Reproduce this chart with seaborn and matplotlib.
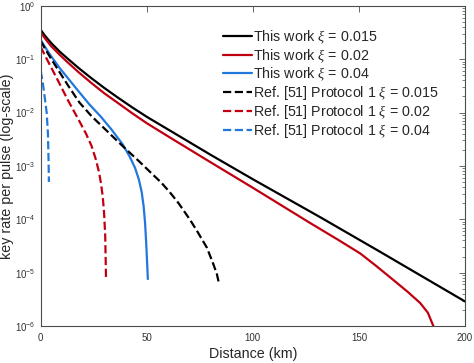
import numpy as np
import seaborn as sns
import matplotlib.pyplot as plt
from matplotlib.ticker import LogLocator, NullFormatter

# data (distance in km, log10 of key rate)
x_black = [0, 2, 5, 9, 13, 18, 24, 30, 36, 43, 50, 61, 80, 100, 131.7, 160, 200]
y_black = [-0.45, -0.56, -0.70, -0.86, -1.00, -1.17, -1.36, -1.54, -1.71, -1.90, -2.08, -2.34, -2.79, -3.25, -3.96, -4.61, -5.54]

x_red = [0, 2, 5, 9, 13, 18, 24, 30, 36, 43, 50, 61, 80, 100, 127, 140, 150.6, 158, 166.3, 173, 178.9, 182.5, 185.2, 186.5]
y_red = [-0.50, -0.61, -0.76, -0.92, -1.07, -1.25, -1.45, -1.64, -1.81, -2.01, -2.20, -2.47, -2.93, -3.41, -4.07, -4.38,
         -4.64, -4.87, -5.14, -5.36, -5.57, -5.75, -6.01, -6.3]

x_blue = [0, 2, 5, 9, 13.5, 18, 23, 28.4, 33.4, 38.7, 42, 44.5, 46.3, 47.6, 48.5, 49.2, 49.8, 50.2, 50.5]
y_blue = [-0.64, -0.77, -0.95, -1.17, -1.39, -1.61, -1.85, -2.08, -2.32, -2.60, -2.83, -3.04, -3.26, -3.49, -3.75,
          -4.07, -4.5, -4.85, -5.12]

x_black_ref = [0, 2, 5, 9, 13, 18.2, 24, 30.3, 35.5, 40, 46, 52, 57, 61, 65, 70.4, 74, 78.3, 81, 83, 84.2]
y_black_ref = [-0.66, -0.80, -1.00, -1.25, -1.50, -1.81, -2.07, -2.31, -2.51, -2.68, -2.90, -3.13, -3.32, -3.50, -3.70,
               -4.01, -4.24, -4.53, -4.80, -5.02, -5.23]

x_red_ref = [0, 2, 5, 8.5, 12.7, 16, 19, 21.4, 24, 26, 27.5, 28.5, 29.3, 29.9, 30.4, 30.8]
y_red_ref = [-0.77, -0.93, -1.16, -1.43, -1.76, -2.00, -2.22, -2.40, -2.63, -2.88, -3.12, -3.35, -3.60, -3.90, -4.3, -5.14]

x_blue_ref = [0, 1, 2, 2.8, 3.4, 3.7, 3.85]
y_blue_ref = [-1.22, -1.45, -1.75, -2.0, -2.39, -2.9, -3.3]

labels = [r'This work $\xi$ = 0.015', r'This work $\xi$ = 0.02', r'This work $\xi$ = 0.04',
          r'Ref. [51] Protocol 1 $\xi$ = 0.015', r'Ref. [51] Protocol 1 $\xi$ = 0.02',
          r'Ref. [51] Protocol 1 $\xi$ = 0.04']

sns.set_style('white')
plt.rcParams['font.family'] = ['Liberation Sans', 'DejaVu Sans']
plt.rcParams['mathtext.fontset'] = 'custom'
plt.rcParams['mathtext.rm'] = 'Liberation Sans'
plt.rcParams['mathtext.it'] = 'Liberation Serif:italic'

black, red, blue = '#000000', '#C00010', '#2277DD'

fig = plt.figure(figsize=(4.74, 3.63), dpi=100)
ax = fig.add_axes([0.0859, 0.102, 0.895, 0.882])

series = [
    (x_black, y_black, black, '-'),
    (x_red, y_red, red, '-'),
    (x_blue, y_blue, blue, '-'),
    (x_black_ref, y_black_ref, black, '--'),
    (x_red_ref, y_red_ref, red, '--'),
    (x_blue_ref, y_blue_ref, blue, '--'),
]
for (xs, ys, c, ls), lab in zip(series, labels):
    line_kw = dict(dashes=(3, 2)) if ls == '--' else {}
    sns.lineplot(x=xs, y=10 ** np.array(ys), color=c, linewidth=1.6, linestyle=ls,
                 label=lab, ax=ax, sort=False, estimator=None, **line_kw)

ax.set_yscale('log')
ax.set_xlim(0, 200)
ax.set_ylim(1e-6, 1)
ax.set_xticks([0, 50, 100, 150, 200])
ax.yaxis.set_major_locator(LogLocator(base=10, numticks=10))
ax.yaxis.set_minor_locator(LogLocator(base=10, subs=np.arange(2, 10), numticks=100))
ax.yaxis.set_minor_formatter(NullFormatter())

ax.set_xlabel('Distance (km)', fontsize=10.3, labelpad=3)
ax.set_ylabel('key rate per pulse (log-scale)', fontsize=10.3, labelpad=1)

for s in ax.spines.values():
    s.set_color('0.3')
    s.set_linewidth(0.8)
ax.tick_params(which='both', direction='in', top=True, right=True, colors='0.3',
               labelsize=7, labelcolor='0.2')
ax.tick_params(axis='x', pad=5)
ax.tick_params(which='major', length=4, width=0.6)
ax.tick_params(which='minor', length=2, width=0.5)

ax.legend(loc='upper left', bbox_to_anchor=(0.416, 0.946), frameon=False, fontsize=10.3,
          handlelength=2.0, handletextpad=0.12, labelspacing=0.08, borderaxespad=0)

fig.savefig('out.png', dpi=100)
